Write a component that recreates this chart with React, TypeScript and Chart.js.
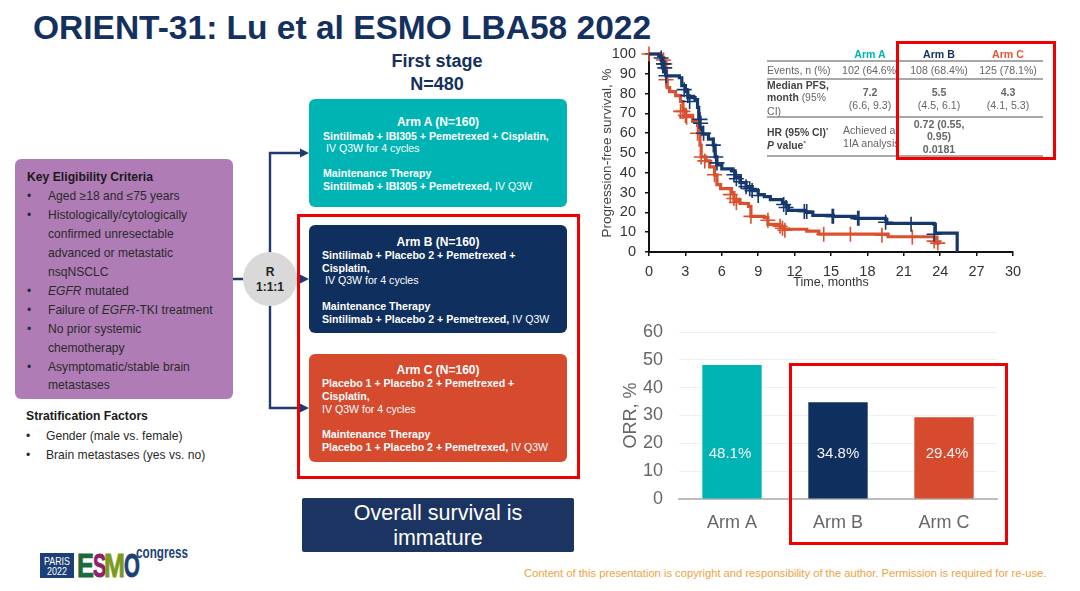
import { useEffect, useRef } from "react"
import type { CSSProperties, ReactNode } from "react"
import { Chart, registerables } from "chart.js"

Chart.register(...registerables)

const FONT = "'Liberation Sans', Arial, sans-serif"
Chart.defaults.font.family = FONT

const NAVY = "#0f2f5f"
const TEAL = "#00b4b4"
const ORANGE = "#d64a2e"
const RED = "#f00000"

// KM curves, months / %
const armBMonths = [0, 0.8, 1.0, 1.1, 1.2, 1.4, 2.0, 2.5, 2.7, 3.0, 3.2, 3.8, 4.0, 4.1, 4.2, 4.4, 4.9, 5.3, 5.45, 5.6, 6.0, 6.8, 7.1, 7.5, 8.0, 8.5, 9.0, 9.5, 10, 11, 11.3, 11.5, 12.9, 13.5, 15.2, 17, 19.5, 19.6, 23.5, 23.6, 25.3, 25.4]
const armBSurvival = [100, 99, 97, 93, 91, 89, 89, 88, 84, 81, 78, 77, 73, 68, 63, 59.5, 57, 54, 48, 44, 42, 41, 38, 35, 33, 31, 29, 28, 26.5, 25, 23, 21, 20, 18.5, 18, 17, 16.5, 14.5, 14, 9.5, 9.5, 0]
const armCMonths = [0, 1.0, 1.2, 1.4, 1.45, 1.5, 1.7, 2.2, 2.6, 2.8, 3.0, 3.6, 4.0, 4.1, 4.2, 4.3, 4.7, 5.0, 5.4, 5.6, 5.9, 6.8, 7.0, 7.5, 8.2, 8.4, 9.5, 9.8, 10.8, 11.1, 13, 14, 19.5, 19.7, 23.5, 23.6, 24]
const armCSurvival = [100, 98, 96, 92, 87, 83, 81, 79, 76, 72, 69, 66, 64, 60, 54, 48, 46, 43, 39, 34, 32, 30, 26, 24.5, 23, 18, 17.5, 14, 13, 11.5, 10.5, 9, 9, 7.7, 7.5, 4.5, 4.5]

// censor ticks
const armBCensorMonths = [1.0, 1.2, 1.3, 1.4, 2.9, 3.2, 3.35, 4.2, 4.25, 4.5, 5.3, 5.5, 5.6, 7.0, 7.2, 7.6, 8.0, 8.3, 8.5, 9.0, 11.1, 11.3, 12.8, 13.0, 15.1, 15.2, 17.2, 17.3, 19.5, 21.6, 23.5]
const armBCensorSurvival = [98, 95, 93, 89, 82, 79, 76, 67, 65, 60, 54, 48, 45, 39, 37, 35.5, 33, 32, 31, 28.5, 24, 22.5, 20.5, 20.5, 18, 18, 17, 17, 15, 14, 9]
const armCCensorMonths = [0, 1.2, 1.3, 1.4, 2.6, 2.8, 3.0, 3.1, 4.0, 4.3, 4.6, 5.4, 6.7, 7.0, 7.2, 8.4, 9.8, 10.8, 11.0, 11.2, 14.4, 16.6, 19.2, 21.7, 23.5, 23.8]
const armCCensorSurvival = [100, 97, 95, 87, 71, 71, 69, 68, 60, 48, 46, 39, 29, 27, 25, 18, 16, 13, 12, 11, 9, 9, 8.5, 7.5, 5.5, 4.5]

// ORR bars
const orrArms = ["Arm A", "Arm B", "Arm C"]
const orrValues = [48.1, 34.8, 29.4]
const orrColors = [TEAL, NAVY, ORANGE]
const orrLabelNudge = [-2, 0, 3]

const eligibility = [
  "Aged ≥18 and ≤75 years",
  "Histologically/cytologically",
  "confirmed unresectable",
  "advanced or metastatic",
  "nsqNSCLC",
]

const toPoints = (xs: number[], ys: number[]) => xs.map((x, i) => ({ x, y: ys[i] }))

// fixes the scale's box so the plot area lands where the slide has it
const fixBox = (prop: "width" | "height", value: number) => (s: any) => {
  s[prop] = value
  s.paddingTop = s.paddingBottom = s.paddingLeft = s.paddingRight = 0
}

function KmChart() {
  const ref = useRef<HTMLCanvasElement>(null)

  useEffect(() => {
    if (!ref.current) return
    const censor = (data: { x: number; y: number }[], color: string) => ({
      type: "scatter" as const,
      data,
      showLine: false,
      pointStyle: "cross",
      pointRadius: 7.5,
      pointBorderColor: color,
      pointBorderWidth: 1.6,
      clip: false as const,
    })
    const curve = (data: { x: number; y: number }[], color: string) => ({
      type: "line" as const,
      data,
      stepped: true,
      borderColor: color,
      borderWidth: 3.2,
      pointRadius: 0,
      clip: false as const,
    })
    const chart = new Chart(ref.current, {
      type: "line",
      data: {
        datasets: [
          curve(toPoints(armBMonths, armBSurvival), "#14386e"),
          censor(toPoints(armBCensorMonths, armBCensorSurvival), "#14386e"),
          curve(toPoints(armCMonths, armCSurvival), "#d9512f"),
          censor(toPoints(armCCensorMonths, armCCensorSurvival), "#d9512f"),
        ] as any,
      },
      options: {
        animation: false,
        responsive: false,
        layout: { padding: { top: 14, right: 19, left: 0, bottom: 0 } },
        plugins: { legend: { display: false }, tooltip: { enabled: false } },
        scales: {
          x: {
            type: "linear",
            min: 0,
            max: 30,
            afterFit: fixBox("height", 38),
            border: { color: "#111", width: 2 },
            grid: { drawOnChartArea: false, color: "#111", tickLength: 4, lineWidth: 1.5 },
            ticks: { stepSize: 3, color: "#333", font: { size: 14.5 }, padding: 7, maxRotation: 0, autoSkip: false },
            title: { display: true, text: "Time, months", color: "#333", font: { size: 12.5 }, padding: 0 },
          },
          y: {
            min: 0,
            max: 100,
            afterFit: fixBox("width", 57),
            border: { color: "#111", width: 2 },
            grid: { drawOnChartArea: false, color: "#111", tickLength: 4, lineWidth: 1.5 },
            ticks: { stepSize: 10, color: "#333", font: { size: 14.5 }, padding: 9, autoSkip: false },
            title: { display: true, text: "Progression-free survival, %", color: "#444", font: { size: 13.5 }, padding: { top: 7, bottom: 0 } },
          },
        },
      },
    })
    return () => chart.destroy()
  }, [])

  return <canvas ref={ref} width={440} height={250} style={{ position: "absolute", left: 592, top: 40 }} />
}

function OrrChart() {
  const ref = useRef<HTMLCanvasElement>(null)

  useEffect(() => {
    if (!ref.current) return
    const barLabels = {
      id: "barLabels",
      afterDatasetsDraw(c: Chart) {
        const ctx = c.ctx
        const y = c.scales.y.getPixelForValue(16.3)
        ctx.save()
        ctx.font = `15px ${FONT}`
        ctx.fillStyle = "#f4f4f4"
        ctx.textAlign = "center"
        ctx.textBaseline = "middle"
        c.getDatasetMeta(0).data.forEach((bar, i) => {
          ctx.fillText(`${orrValues[i]}%`, bar.x + orrLabelNudge[i], y)
        })
        ctx.restore()
      },
    }
    const chart = new Chart(ref.current, {
      type: "bar",
      data: {
        labels: orrArms,
        datasets: [
          {
            data: orrValues,
            backgroundColor: orrColors,
            barPercentage: 0.56,
            categoryPercentage: 1,
          },
        ],
      },
      options: {
        animation: false,
        responsive: false,
        layout: { padding: { top: 12, right: 13, left: 0, bottom: 0 } },
        plugins: { legend: { display: false }, tooltip: { enabled: false } },
        scales: {
          x: {
            afterFit: fixBox("height", 61),
            border: { color: "#bdbdbd", width: 2 },
            grid: { display: false },
            ticks: { color: "#666", font: { size: 18 }, padding: 5 },
          },
          y: {
            min: 0,
            max: 60,
            afterFit: fixBox("width", 59),
            border: { display: false },
            grid: { color: "#efefef", drawTicks: false, lineWidth: 1 },
            ticks: { stepSize: 10, color: "#666", font: { size: 18 }, padding: 16 },
            title: { display: true, text: "ORR, %", color: "#666", font: { size: 18 }, padding: 0 },
          },
        },
      },
      plugins: [barLabels],
    })
    return () => chart.destroy()
  }, [])

  return <canvas ref={ref} width={390} height={240} style={{ position: "absolute", left: 620, top: 320 }} />
}

// single line of text centred vertically on y
function T({ x, y, w, align, style, children }: { x: number; y: number; w?: number; align?: "center"; style?: CSSProperties; children: ReactNode }) {
  return (
    <div
      style={{
        position: "absolute",
        left: x,
        top: y - 10,
        width: w,
        height: 20,
        lineHeight: "20px",
        whiteSpace: "nowrap",
        textAlign: align,
        ...style,
      }}
    >
      {children}
    </div>
  )
}

function Box({ x, y, w, h, bg, radius = 6 }: { x: number; y: number; w: number; h: number; bg: string; radius?: number }) {
  return <div style={{ position: "absolute", left: x, top: y, width: w, height: h, background: bg, borderRadius: radius }} />
}

function RedFrame({ x, y, w, h }: { x: number; y: number; w: number; h: number }) {
  return (
    <div style={{ position: "absolute", left: x, top: y, width: w, height: h, boxSizing: "border-box", border: `3px solid ${RED}` }} />
  )
}

function ArmBox({ y, bg, title, titleY, lines, textX }: { y: number; bg: string; title: string; titleY: number; lines: [number, ReactNode][]; textX: number }) {
  return (
    <>
      <Box x={309} y={y} w={258} h={108} bg={bg} />
      <T x={309} y={y + titleY} w={258} align="center" style={{ color: "#fff", fontWeight: 700, fontSize: 12 }}>
        {title}
      </T>
      {lines.map(([dy, line], i) => (
        <T key={i} x={textX} y={y + dy} style={{ color: "#fff", fontWeight: 700, fontSize: 10.6 }}>
          {line}
        </T>
      ))}
    </>
  )
}

const Thin = ({ children }: { children: ReactNode }) => <span style={{ fontWeight: 400 }}>{children}</span>

function Connectors() {
  const c = "#1f3a6e"
  return (
    <svg width={1080} height={591} style={{ position: "absolute", left: 0, top: 0 }}>
      <path d="M233 279H245M270 255V153H301M270 300V408H301M295 279H301" fill="none" stroke={c} strokeWidth={2.4} />
      <path d="M309 153l-9 -4.5v9zM309 279l-9 -4.5v9zM309 408l-9 -4.5v9z" fill={c} />
      <circle cx={270} cy={279} r={27} fill="#d9d9d9" />
    </svg>
  )
}

function Logo() {
  const letter = (ch: string, x: number, color: string, sx: number) => (
    <div
      style={{
        position: "absolute",
        left: x,
        top: 548,
        fontWeight: 700,
        fontSize: 34,
        lineHeight: "34px",
        color,
        WebkitTextStroke: `0.9px ${color}`,
        transform: `scaleX(${sx})`,
        transformOrigin: "left top",
      }}
    >
      {ch}
    </div>
  )
  return (
    <>
      <Box x={40} y={553} w={34} h={25} bg="#1d3f77" radius={0} />
      <T x={40} y={561} w={34} align="center" style={{ color: "#fff", fontSize: 10.5, transform: "scaleX(0.85)" }}>
        PARIS
      </T>
      <T x={40} y={571} w={34} align="center" style={{ color: "#fff", fontSize: 10.5, transform: "scaleX(0.85)" }}>
        2022
      </T>
      {letter("E", 77, "#1b6b3a", 0.75)}
      {letter("S", 93, "#8e1f6b", 0.58)}
      {letter("M", 104, "#7a9a1e", 0.74)}
      {letter("O", 124, "#1d3f77", 0.6)}
      <T x={136} y={553} style={{ color: "#1d3f77", fontWeight: 700, fontSize: 16, transform: "scaleX(0.73)", transformOrigin: "left center" }}>
        congress
      </T>
    </>
  )
}

function PfsTable() {
  const gray = "#666"
  const size = 10.6
  const rule = (y: number) => <Box x={767} y={y} w={276} h={1.6} bg="#a8a8a8" radius={0} />
  const cell = (x: number, y: number, text: ReactNode, extra?: CSSProperties) => (
    <T x={x - 45} y={y} w={90} align="center" style={{ fontSize: size, color: gray, ...extra }}>
      {text}
    </T>
  )
  const head = (x: number, y: number, text: ReactNode) => (
    <T x={x} y={y} style={{ fontSize: 10.4, color: "#444", fontWeight: 700 }}>
      {text}
    </T>
  )
  return (
    <>
      {rule(60)}
      {rule(78)}
      {rule(116)}
      {rule(155)}
      {cell(870, 54, "Arm A", { color: TEAL, fontWeight: 700 })}
      {cell(939, 54, "Arm B", { color: NAVY, fontWeight: 700 })}
      {cell(1008, 54, "Arm C", { color: "#e2543a", fontWeight: 700 })}
      <T x={767} y={70} style={{ fontSize: size, color: gray }}>Events, n (%)</T>
      <T x={842} y={70} style={{ fontSize: size, color: gray }}>102 (64.6%</T>
      {cell(939, 70, "108 (68.4%)")}
      {cell(1008, 70, "125 (78.1%)")}
      {head(767, 86, "Median PFS,")}
      {head(767, 98, <>month <span style={{ fontWeight: 400, color: gray }}>(95%</span></>)}
      <T x={767} y={111} style={{ fontSize: size, color: gray }}>CI)</T>
      {cell(870, 92, "7.2", { fontWeight: 700 })}
      {cell(870, 105, "(6.6, 9.3)")}
      {cell(939, 92, "5.5", { fontWeight: 700 })}
      {cell(939, 105, "(4.5, 6.1)")}
      {cell(1008, 92, "4.3", { fontWeight: 700 })}
      {cell(1008, 105, "(4.1, 5.3)")}
      {head(767, 130, <>HR (95% CI)<sup style={{ fontSize: 6 }}>*</sup></>)}
      {head(767, 143, <><i>P</i> value<sup style={{ fontSize: 6 }}>*</sup></>)}
      <T x={843} y={130} style={{ fontSize: size, color: gray }}>Achieved a</T>
      <T x={843} y={143} style={{ fontSize: size, color: gray }}>1IA analysis</T>
      {cell(939, 124, "0.72 (0.55,", { fontWeight: 700 })}
      {cell(939, 136, "0.95)", { fontWeight: 700 })}
      {cell(939, 149, "0.0181", { fontWeight: 700 })}
    </>
  )
}

export default function App() {
  const body: CSSProperties = { fontSize: 12.1, color: "#2a2a2a" }
  const bullets = [196, 215, 291, 310, 329, 367]
  return (
    <div
      style={{
        position: "fixed",
        left: 0,
        top: 0,
        width: 1080,
        height: 591,
        overflow: "hidden",
        background: "#fff",
        fontFamily: FONT,
        filter: "blur(0.35px)",
      }}
    >
      <T x={33} y={28} style={{ fontSize: 33.5, fontWeight: 700, color: "#14305f" }}>
        ORIENT-31: Lu et al ESMO LBA58 2022
      </T>
      <T x={337} y={61} w={200} align="center" style={{ fontSize: 18, fontWeight: 700, color: "#14305f" }}>
        First stage
      </T>
      <T x={337} y={84} w={200} align="center" style={{ fontSize: 18, fontWeight: 700, color: "#14305f" }}>
        N=480
      </T>

      <Connectors />
      <T x={243} y={272} w={54} align="center" style={{ fontSize: 12, fontWeight: 700, color: "#222" }}>R</T>
      <T x={243} y={287} w={54} align="center" style={{ fontSize: 12, fontWeight: 700, color: "#222" }}>1:1:1</T>

      <Box x={15} y={159} w={218} h={240} bg="#b07cb6" />
      <T x={27} y={177} style={{ fontSize: 12.2, fontWeight: 700, color: "#1a1a1a" }}>Key Eligibility Criteria</T>
      {bullets.map((y) => (
        <T key={y} x={27} y={y} style={body}>•</T>
      ))}
      {eligibility.map((line, i) => (
        <T key={line} x={48} y={196 + i * 19} style={body}>{line}</T>
      ))}
      <T x={48} y={291} style={body}><i>EGFR</i> mutated</T>
      <T x={48} y={310} style={body}>Failure of <i>EGFR</i>-TKI treatment</T>
      <T x={48} y={329} style={body}>No prior systemic</T>
      <T x={48} y={348} style={body}>chemotherapy</T>
      <T x={48} y={367} style={body}>Asymptomatic/stable brain</T>
      <T x={48} y={385} style={body}>metastases</T>

      <T x={26} y={416} style={{ fontSize: 12.2, fontWeight: 700, color: "#1a1a1a" }}>Stratification Factors</T>
      <T x={26} y={436} style={body}>•</T>
      <T x={26} y={455} style={body}>•</T>
      <T x={46} y={436} style={body}>Gender (male vs. female)</T>
      <T x={46} y={455} style={body}>Brain metastases (yes vs. no)</T>

      <ArmBox
        y={99}
        bg={TEAL}
        title="Arm A (N=160)"
        titleY={23}
        textX={323}
        lines={[
          [37, "Sintilimab + IBI305 + Pemetrexed + Cisplatin,"],
          [49, <Thin>&nbsp;IV Q3W for 4 cycles</Thin>],
          [74, "Maintenance Therapy"],
          [87, <>Sintilimab + IBI305 + Pemetrexed, <Thin>IV Q3W</Thin></>],
        ]}
      />
      <ArmBox
        y={225}
        bg={NAVY}
        title="Arm B (N=160)"
        titleY={17}
        textX={322}
        lines={[
          [30, "Sintilimab + Placebo 2 + Pemetrexed +"],
          [43, "Cisplatin,"],
          [55, <Thin>&nbsp;IV Q3W for 4 cycles</Thin>],
          [81, "Maintenance Therapy"],
          [94, <>Sintilimab + Placebo 2 + Pemetrexed, <Thin>IV Q3W</Thin></>],
        ]}
      />
      <ArmBox
        y={354}
        bg={ORANGE}
        title="Arm C (N=160)"
        titleY={16}
        textX={322}
        lines={[
          [29, "Placebo 1 + Placebo 2 + Pemetrexed  +"],
          [42, "Cisplatin,"],
          [55, <Thin>IV Q3W for 4 cycles</Thin>],
          [80, "Maintenance Therapy"],
          [93, <>Placebo 1 + Placebo 2 + Pemetrexed, <Thin>IV Q3W</Thin></>],
        ]}
      />
      <RedFrame x={297} y={214} w={283} h={265} />

      <Box x={302} y={498} w={272} h={54} bg="#1c3461" radius={2} />
      <T x={302} y={513} w={272} align="center" style={{ fontSize: 21.5, color: "#fff" }}>Overall survival is</T>
      <T x={302} y={538} w={272} align="center" style={{ fontSize: 21.5, color: "#fff" }}>immature</T>

      <KmChart />
      <PfsTable />
      <RedFrame x={896} y={41} w={160} h={119} />

      <OrrChart />
      <RedFrame x={789} y={363} w={219} h={182} />

      <Logo />
      <T x={524} y={573} style={{ fontSize: 11.2, color: "#f0a23c" }}>
        Content of this presentation is copyright and responsibility of the author. Permission is required for re-use.
      </T>
    </div>
  )
}
